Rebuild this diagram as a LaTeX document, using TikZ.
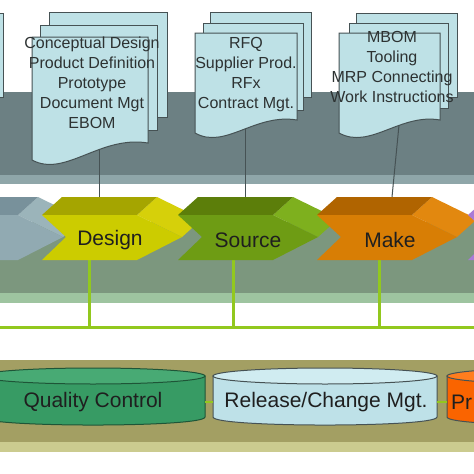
\documentclass[tikz,border=0pt]{standalone}
\usepackage{fontspec}
\setmainfont{Liberation Sans}
\definecolor{topband}{RGB}{108,128,131}
\definecolor{topstrip}{RGB}{143,166,169}
\definecolor{midband}{RGB}{124,151,126}
\definecolor{midstrip}{RGB}{158,196,160}
\definecolor{botband}{RGB}{163,159,99}
\definecolor{botstrip}{RGB}{203,203,143}
\definecolor{docfill}{RGB}{190,225,230}
\definecolor{docline}{RGB}{70,82,84}
\definecolor{doctxt}{RGB}{45,50,50}
\definecolor{busgreen}{RGB}{146,200,30}
\definecolor{desT}{RGB}{165,165,0}
\definecolor{desF}{RGB}{204,204,0}
\definecolor{desS}{RGB}{214,208,10}
\definecolor{souT}{RGB}{92,126,10}
\definecolor{souF}{RGB}{110,156,20}
\definecolor{souS}{RGB}{126,176,30}
\definecolor{makT}{RGB}{176,100,0}
\definecolor{makF}{RGB}{216,126,5}
\definecolor{makS}{RGB}{226,136,15}
\definecolor{lefT}{RGB}{120,145,155}
\definecolor{lefF}{RGB}{145,170,178}
\definecolor{lefS}{RGB}{155,180,186}
\definecolor{purF}{RGB}{168,122,215}
\definecolor{qcBody}{RGB}{55,155,100}
\definecolor{qcTop}{RGB}{72,170,116}
\definecolor{qcLine}{RGB}{30,85,55}
\definecolor{rcBody}{RGB}{190,225,232}
\definecolor{rcTop}{RGB}{208,236,241}
\definecolor{prBody}{RGB}{250,100,0}
\definecolor{prTop}{RGB}{255,125,30}
\newcommand{\mychev}[4]{%
  \fill[#4] (#1+95,215) -- (#1+115,197) -- (#1+160,219) -- (#1+140,237) -- cycle;
  \fill[#2] (#1,215) -- (#1+20,197) -- (#1+115,197) -- (#1+95,215) -- cycle;
  \fill[#3] (#1,215) -- (#1+95,215) -- (#1+140,237) -- (#1+95,260) -- (#1,260) -- (#1+24,237) -- cycle;
}
\newcommand{\mycyl}[5]{% xL, xR, body, top, line
  \filldraw[fill=#3, draw=#5, line width=1pt] (#1,376) -- (#1,417) .. controls (#1,427.7) and (#2,427.7) .. (#2,417) -- (#2,376) -- cycle;
  \filldraw[fill=#4, draw=#5, line width=1pt] ({(#1+#2)/2},376) ellipse [x radius={(#2-#1)/2}, y radius=8];
}
\begin{document}
\begin{tikzpicture}[x=1pt,y=-1pt,
  docsheet/.style={fill=docfill, draw=docline, line width=1pt},
  doctext/.style={font=\fontsize{16}{20}\selectfont, text=doctxt, align=center, inner sep=0pt},
  chevtext/.style={font=\fontsize{21}{24}\selectfont, text=black!88, inner sep=0pt},
  cyltext/.style={font=\fontsize{21}{24}\selectfont, text=black!88, inner sep=0pt},
  gline/.style={draw=busgreen, line width=3pt},
  conn/.style={draw=docline, line width=1pt},
  smallconn/.style={draw=busgreen, line width=2pt}]
\useasboundingbox (0,0) rectangle (474,474);
\clip (0,0) rectangle (474,474);
\fill[white] (0,0) rectangle (474,474);
% top band
\fill[topband] (0,92) rectangle (474,175);
\fill[topstrip] (0,175) rectangle (474,184);
% partial document at left edge
\filldraw[docsheet] (-20,13) rectangle (3,97);
% connector end points
\coordinate (d1) at (99,150);
\coordinate (c1) at (99,197);
\coordinate (d2) at (245,125);
\coordinate (c2) at (245,197);
\coordinate (d3) at (399,125);
\coordinate (c3) at (392,197);
\draw[conn] (d1) -- (c1);
\draw[conn] (d2) -- (c2);
\draw[conn] (d3) -- (c3);
% document stack 1
\filldraw[docsheet] (49,12) rectangle (167,117);
\filldraw[docsheet] (40,25) rectangle (157,130);
\filldraw[docsheet] (32,37) -- (148,37) -- (148,143) .. controls (100,135) and (65,178) .. (32,160) -- cycle;
\node[doctext] (doc1) at (92,83) {Conceptual Design\\Product Definition\\Prototype\\Document Mgt\\EBOM};
% document stack 2
\filldraw[docsheet] (210,12) rectangle (311,97);
\filldraw[docsheet] (203,23) rectangle (303,110);
\filldraw[docsheet] (195,33) -- (297,33) -- (297,120) .. controls (255,113) and (225,150) .. (195,133) -- cycle;
\node[doctext] (doc2) at (246,75) {RFQ\\Supplier Prod.\\RFx\\Contract Mgt.};
% document stack 3
\filldraw[docsheet] (356,13) rectangle (457,97);
\filldraw[docsheet] (349,23) rectangle (448,108);
\filldraw[docsheet] (339,33) -- (440,33) -- (440,120) .. controls (400,113) and (370,150) .. (339,133) -- cycle;
\node[doctext] (doc3) at (392,67) {MBOM\\Tooling\\MRP Connecting\\Work Instructions};
% middle band
\fill[midband] (0,222) rectangle (474,293);
\fill[midstrip] (0,293) rectangle (474,303);
% green bus
\coordinate (g1) at (89,250);
\coordinate (b1) at (89,327);
\coordinate (g2) at (233,250);
\coordinate (b2) at (233,327);
\coordinate (g3) at (379,250);
\coordinate (b3) at (379,327);
\coordinate (busL) at (0,327);
\coordinate (busR) at (474,327);
\draw[gline] (g1) -- (b1);
\draw[gline] (g2) -- (b2);
\draw[gline] (g3) -- (b3);
\draw[gline] (busL) -- (busR);
% chevrons
\mychev{-77}{lefT}{lefF}{lefS}
\mychev{42}{desT}{desF}{desS}
\mychev{178}{souT}{souF}{souS}
\mychev{317}{makT}{makF}{makS}
\mychev{468}{purF}{purF}{purF}
\node[chevtext] (design) at (110,240) {Design};
\node[chevtext] (source) at (248,240) {Source};
\node[chevtext] (make) at (390,240) {Make};
% bottom band
\fill[botband] (0,360) rectangle (474,442);
\fill[botstrip] (0,442) rectangle (474,452);
\mycyl{-19}{205}{qcBody}{qcTop}{qcLine}
\mycyl{213}{437}{rcBody}{rcTop}{docline}
\mycyl{447}{671}{prBody}{prTop}{docline}
\node[cyltext] (qc) at (93,402) {Quality Control};
\node[cyltext] (rc) at (326,402) {Release/Change Mgt.};
\node[cyltext, anchor=west] (pr) at (451,402) {Pr};
\coordinate (qcR) at (205,402);
\coordinate (rcL) at (213,402);
\coordinate (rcR) at (437,402);
\coordinate (prL) at (447,402);
\draw[smallconn] (qcR) -- (rcL);
\draw[smallconn] (rcR) -- (prL);
\end{tikzpicture}
\end{document}
